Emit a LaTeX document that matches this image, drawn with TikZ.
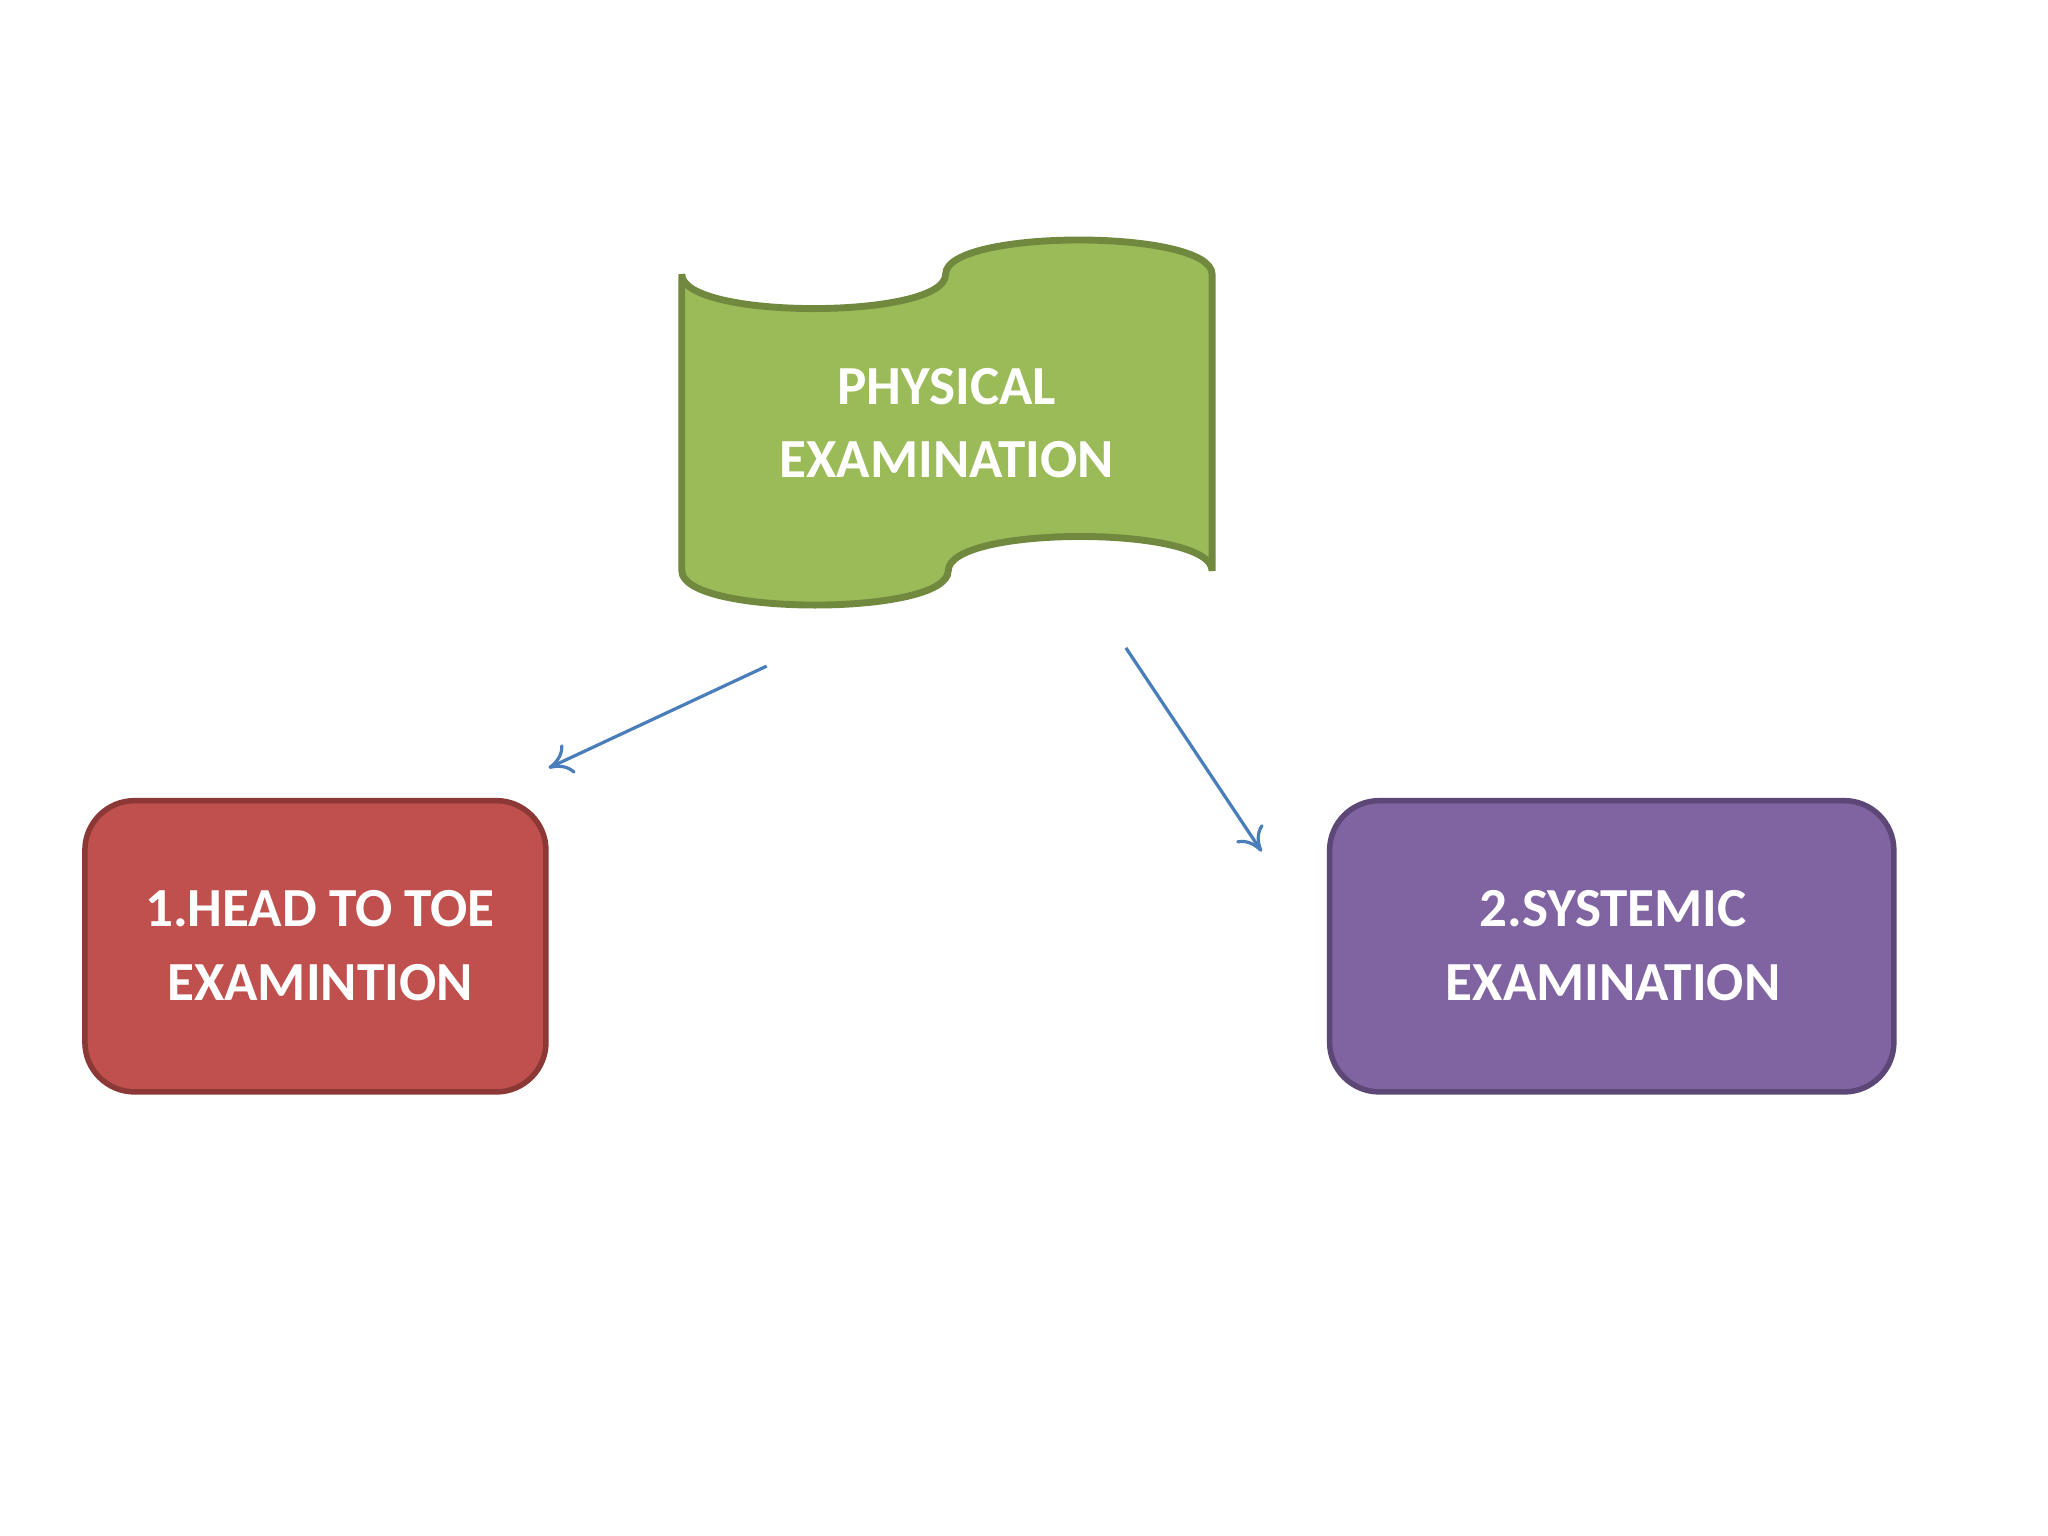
\documentclass[tikz,border=0pt]{standalone}
\usepackage{fontspec}
\setmainfont{Carlito}
\usetikzlibrary{arrows.meta}
\definecolor{wgreen}{HTML}{9BBB59}
\definecolor{wgreenb}{HTML}{71893F}
\definecolor{bred}{HTML}{C0504D}
\definecolor{bredb}{HTML}{8C3836}
\definecolor{bpur}{HTML}{8064A2}
\definecolor{bpurb}{HTML}{5C4776}
\definecolor{arr}{HTML}{4A7EBB}
\begin{document}
\begin{tikzpicture}[x=0.01cm,y=-0.01cm,
  lbl/.style={text=white,font=\bfseries\fontsize{12}{16}\selectfont,align=center},
  boxst/.style={rounded corners=0.38cm,line width=1.2pt},
  conn/.style={arr,line width=0.7pt,-{To[length=5pt,width=7pt]}}]
\useasboundingbox (0,0) rectangle (1568,1176);
\fill[white] (0,0) rectangle (1568,1176);
% wave
\draw[fill=wgreen,draw=wgreenb,line width=1.5pt]
 (522,210) .. controls (522,245) and (724,245) .. (724,210)
 .. controls (724,175) and (928,175) .. (928,210)
 -- (928,437)
 .. controls (928,402) and (726,402) .. (726,437)
 .. controls (726,472) and (522,472) .. (522,437) -- cycle;
\node[lbl] (pe) at (725,324) {PHYSICAL\\EXAMINATION};
\draw[boxst,fill=bred,draw=bredb] (65,613) rectangle (418,836);
\node[lbl,text=white] (ht) at (245,724) {1.HEAD TO TOE\\EXAMINTION};
\draw[boxst,fill=bpur,draw=bpurb] (1018,613) rectangle (1450,836);
\node[lbl] (se) at (1235,724) {2.SYSTEMIC\\EXAMINATION};
\coordinate (a1) at (587,510);
\coordinate (a2) at (420,588);
\coordinate (b1) at (862,496);
\coordinate (b2) at (966,652);
\draw[conn] (a1) -- (a2);
\draw[conn] (b1) -- (b2);
\end{tikzpicture}
\end{document}
